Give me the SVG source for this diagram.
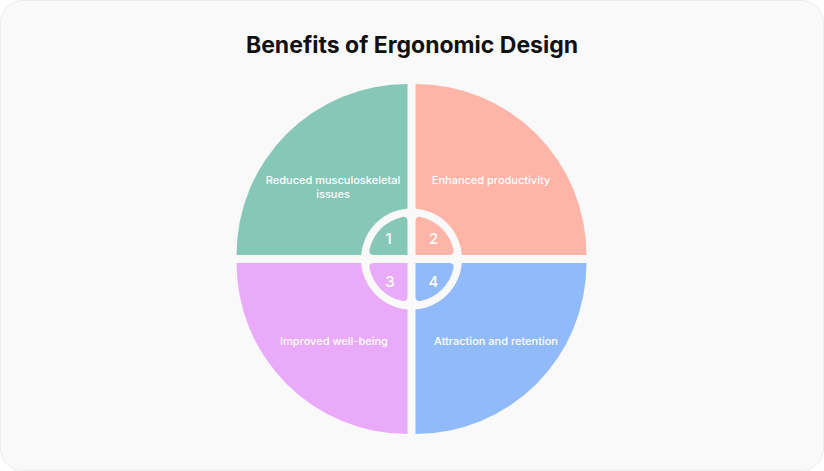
<svg xmlns="http://www.w3.org/2000/svg" width="824" height="471" viewBox="0 0 824 471">
  <style>
    .title { font-family: Inter, "Liberation Sans", sans-serif; font-weight: 700; font-size: 23px; fill: #111111; }
    .label { font-family: Inter, "Liberation Sans", sans-serif; font-weight: 500; font-size: 11px; fill: #ffffff; text-anchor: middle; }
    .num { font-family: Inter, "Liberation Sans", sans-serif; font-weight: 500; font-size: 15px; fill: #ffffff; text-anchor: middle; }
  </style>
  <rect x="0.5" y="0.5" width="823" height="470" rx="22" fill="#f9f9f9" stroke="#ececec"/>
  <text class="title" x="412" y="53" text-anchor="middle">Benefits of Ergonomic Design</text>

  <g id="node-1">
    <path d="M 407.5,255 L 236.5,255 A 171 171 0 0 1 407.5,84 Z" fill="#86c7b7"/>
    <text class="label" x="333" y="184">Reduced musculoskeletal</text>
    <text class="label" x="333" y="198">issues</text>
  </g>
  <g id="node-2">
    <path d="M 415.5,255 L 415.5,84 A 171 171 0 0 1 586.5,255 Z" fill="#ffb4a8"/>
    <text class="label" x="491" y="184">Enhanced productivity</text>
  </g>
  <g id="node-3">
    <path d="M 407.5,263 L 407.5,434 A 171 171 0 0 1 236.5,263 Z" fill="#eaaafa"/>
    <text class="label" x="334" y="345">Improved well-being</text>
  </g>
  <g id="node-4">
    <path d="M 415.5,263 L 586.5,263 A 171 171 0 0 1 415.5,434 Z" fill="#90bafa"/>
    <text class="label" x="496" y="345">Attraction and retention</text>
  </g>

  <g id="hub">
    <circle cx="411.5" cy="259" r="50.5" fill="#f9f9f9"/>
    <path d="M 407.5,255 L 374,255 Q 368.7,255 369.45,250 A 43 43 0 0 1 402.5,216.95 Q 407.5,216.2 407.5,221.5 Z" fill="#86c7b7"/>
    <path d="M 415.5,255 L 449,255 Q 454.3,255 453.55,250 A 43 43 0 0 0 420.5,216.95 Q 415.5,216.2 415.5,221.5 Z" fill="#ffb4a8"/>
    <path d="M 407.5,263 L 374,263 Q 368.7,263 369.45,268 A 43 43 0 0 0 402.5,301.05 Q 407.5,301.8 407.5,296.5 Z" fill="#eaaafa"/>
    <path d="M 415.5,263 L 449,263 Q 454.3,263 453.55,268 A 43 43 0 0 1 420.5,301.05 Q 415.5,301.8 415.5,296.5 Z" fill="#90bafa"/>
    <text class="num" x="388.5" y="244">1</text>
    <text class="num" x="433.5" y="244">2</text>
    <text class="num" x="390" y="287">3</text>
    <text class="num" x="433.5" y="287">4</text>
  </g>
</svg>
